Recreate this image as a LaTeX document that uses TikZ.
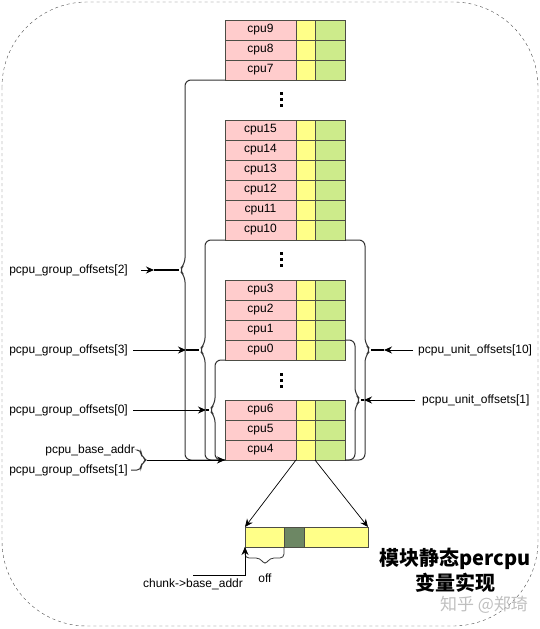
\documentclass[tikz,border=0pt]{standalone}
\usepackage{fontspec}
\setmainfont{Liberation Sans}
\newfontfamily\cjk{Noto Sans CJK SC}
\usetikzlibrary{positioning,arrows.meta}

\definecolor{cpupink}{HTML}{FFCCCC}
\definecolor{padyellow}{HTML}{FFFF88}
\definecolor{datagreen}{HTML}{CDEB8B}
\definecolor{offgreen}{HTML}{6D8764}
\definecolor{cellline}{HTML}{4D4D45}
\definecolor{braceline}{HTML}{333333}

\begin{document}
\begin{tikzpicture}[x=1pt,y=-1pt,font=\fontsize{12}{14}\selectfont,
   cell/.style={draw=cellline, minimum height=20pt, inner sep=0pt, outer sep=0pt},
   cpucell/.style={cell, fill=cpupink, minimum width=71pt},
   padcell/.style={cell, fill=padyellow, minimum width=19pt},
   datacell/.style={cell, fill=datagreen, minimum width=30pt},
   brace/.style={draw=braceline, line width=1pt, rounded corners=6pt},
   arr/.style={-{Stealth[length=8pt,width=7pt]}, line width=1pt},
   lbl/.style={inner sep=3pt}]
   \useasboundingbox (0,0) rectangle (540,629);
   \draw[dash pattern=on 3pt off 3pt, draw=black!70, rounded corners=85pt] (2,2) rectangle (538,626);

   % the unit table, one row per cpu
   \foreach \n/\y in {9/30,8/50,7/70,15/130,14/150,13/170,12/190,11/210,10/230,
                      3/290,2/310,1/330,0/350,6/410,5/430,4/450} {
      \node[cpucell] (c\n) at (260.5,\y) {cpu\n};
      \node[padcell]  (y\n) [right=0pt of c\n] {};
      \node[datacell] (g\n) [right=0pt of y\n] {};
   }
   \foreach \yy in {99,259,380}
      \foreach \d in {-6,0,6}
         \fill (281,\yy+\d) +(-1.5,-1.5) rectangle +(1.5,1.5);

   % brace tips
   \coordinate (tipA)  at (179,270);
   \coordinate (tipB)  at (199,350);
   \coordinate (tipC)  at (209,410);
   \coordinate (tipR1) at (371,350);
   \coordinate (tipR2) at (361,400);
   \coordinate (tipS)  at (147,460);

   \draw[brace] (c7.south west) -- (185,80) -- (185,264) -- (tipA) -- (185,276) -- (185,460) -- (c4.south west);
   \draw[brace] (c10.south west) -- (205,240) -- (205,344) -- (tipB) -- (205,356) -- (205,460) -- (c4.south west);
   \draw[brace] (c0.south west) -- (215,360) -- (215,404) -- (tipC) -- (215,416) -- (215,460) -- (c4.south west);
   \draw[brace] (g10.south east) -- (365,240) -- (365,344) -- (tipR1) -- (365,356) -- (365,460) -- (g4.south east);
   \draw[brace] (g0.north east) -- (355,340) -- (355,394) -- (tipR2) -- (355,406) -- (355,460) -- (g4.south east);

   % labels
   \node[lbl, anchor=east] (gofs2) at (131,270) {pcpu\_group\_offsets[2]};
   \node[lbl, anchor=east] (gofs3) at (131,350) {pcpu\_group\_offsets[3]};
   \node[lbl, anchor=east] (gofs0) at (131,410) {pcpu\_group\_offsets[0]};
   \node[lbl, anchor=east] (base)  at (138,450) {pcpu\_base\_addr};
   \node[lbl, anchor=east] (gofs1) at (131,470) {pcpu\_group\_offsets[1]};
   \node[lbl, anchor=west] (uofs10) at (415,350) {pcpu\_unit\_offsets[10]};
   \node[lbl, anchor=west] (uofs1)  at (419,400) {pcpu\_unit\_offsets[1]};

   \draw[brace, rounded corners=4pt] (base.east) -- (141,450) -- (141,456) -- (tipS) -- (141,464) -- (141,470) -- (gofs1.east);

   \coordinate (a2) at (154,270);
   \coordinate (a3) at (186,350);
   \coordinate (a0) at (206,410);
   \coordinate (r10) at (384,350);
   \coordinate (r1) at (364,400);

   \path[arr]
    (gofs2) edge[shorten <=10pt] (a2)
    (gofs3) edge[shorten <=2pt] (a3)
    (gofs0) edge[shorten <=2pt] (a0)
    (tipS) edge (c4.south west)
    (uofs10) edge[shorten <=2pt] (r10)
    (uofs1) edge[shorten <=4pt] (r1);
   \draw[line width=1.3pt]
    (a2) -- (tipA)
    (a3) -- (tipB)
    (a0) -- (tipC)
    (r10) -- (tipR1)
    (r1) -- (tipR2);

   % the chunk
   \node[cell, fill=padyellow, minimum width=39pt, anchor=north west] (bar1) at (245,527) {};
   \node[cell, fill=offgreen, minimum width=20pt] (bar2) [right=0pt of bar1] {};
   \node[cell, fill=padyellow, minimum width=64pt] (bar3) [right=0pt of bar2] {};

   \path[arr, line width=0.7pt]
    (y4.south west) edge (bar1.north west)
    (g4.south west) edge (bar3.north east);

   \draw[brace, line width=0.8pt, rounded corners=4pt] (bar1.south west) -- (245,558) -- (260,558) -- (265,565) -- (270,558) -- (284,558) -- (bar1.south east);
   \node (off) at (265,578) {off};

   \node (chunk) at (193,584) {chunk->base\_addr};
   \draw[arr, line width=0.8pt] (chunk.north) -| (bar1.south west);

   \node[font=\cjk\bfseries\fontsize{20}{25}\selectfont, align=center] (title) at (455,570) {模块静态percpu\\变量实现};
   \node[text=black!25, font=\cjk\fontsize{17}{20}\selectfont] (mark) at (484,605) {知乎 @郑琦};
\end{tikzpicture}
\end{document}
